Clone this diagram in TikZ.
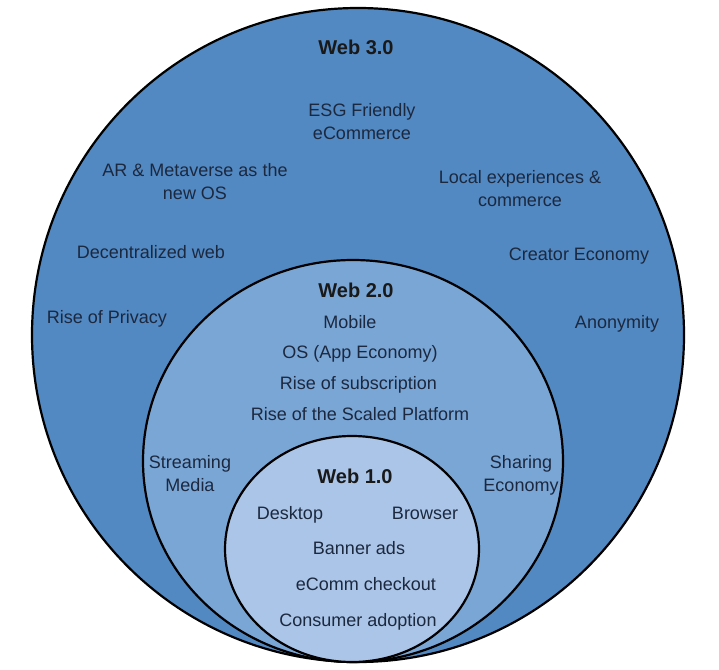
\documentclass[tikz,border=0pt]{standalone}
\usepackage{fontspec}
\setmainfont{Liberation Sans}
\definecolor{outerc}{RGB}{82,137,194}
\definecolor{midc}{RGB}{122,166,214}
\definecolor{innerc}{RGB}{170,197,231}
\definecolor{txtc}{RGB}{28,40,62}
\begin{document}
\begin{tikzpicture}[x=1pt,y=-1pt,
  ring/.style={draw=black, line width=2.2pt},
  txt/.style={text=txtc, font=\fontsize{18}{23}\selectfont, align=center, inner sep=0pt, anchor=base},
  head/.style={text=black!90, font=\fontsize{20}{24}\selectfont\bfseries, inner sep=0pt, anchor=base}]
\useasboundingbox (0,0) rectangle (719,669);
\fill[white] (0,0) rectangle (719,669);
% circles
\draw[ring, fill=outerc] (358,335) ellipse [x radius=326pt, y radius=327pt];
\draw[ring, fill=midc] (353,461) ellipse [x radius=210pt, y radius=201pt];
\draw[ring, fill=innerc] (352,549) ellipse [x radius=127pt, y radius=113pt];
% Web 3.0
\node[head] (w3) at (356,54) {Web 3.0};
\node[txt] (esg) at (362,139) {ESG Friendly\\eCommerce};
\node[txt] (ar) at (195,199) {AR \& Metaverse as the\\new OS};
\node[txt] (local) at (520,206) {Local experiences \&\\commerce};
\node[txt] (dec) at (151,258) {Decentralized web};
\node[txt] (creator) at (579,260) {Creator Economy};
\node[txt] (priv) at (107,323) {Rise of Privacy};
\node[txt] (anon) at (617,328) {Anonymity};
% Web 2.0
\node[head] (w2) at (356,297) {Web 2.0};
\node[txt] (mobile) at (350,328) {Mobile};
\node[txt] (os) at (360,358) {OS (App Economy)};
\node[txt] (sub) at (358.5,389) {Rise of subscription};
\node[txt] (scaled) at (360,420) {Rise of the Scaled Platform};
\node[txt] (stream) at (190,491) {Streaming\\Media};
\node[txt] (share) at (521,491) {Sharing\\Economy};
% Web 1.0
\node[head] (w1) at (355,483) {Web 1.0};
\node[txt] (desk) at (290,519) {Desktop};
\node[txt] (brow) at (425,519) {Browser};
\node[txt] (banner) at (359,554) {Banner ads};
\node[txt] (ecomm) at (366,590) {eComm checkout};
\node[txt] (cons) at (358,626) {Consumer adoption};
\end{tikzpicture}
\end{document}
